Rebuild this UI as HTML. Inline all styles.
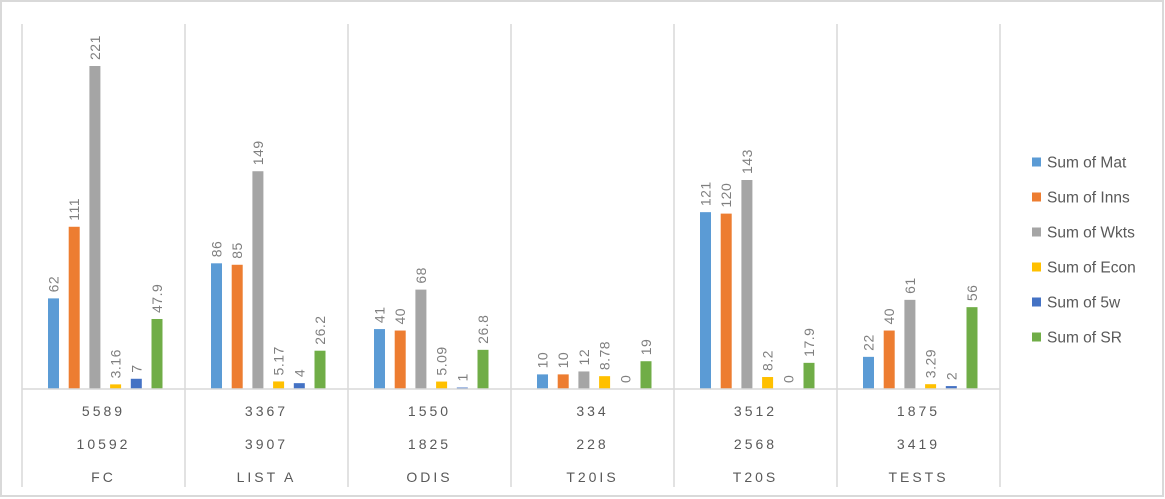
<!DOCTYPE html>
<html><head><meta charset="utf-8"><style>
html,body{margin:0;padding:0;background:#fff;}
svg{display:block;font-family:"Liberation Sans",sans-serif;}
</style></head><body>
<svg id="chart" width="1165" height="499" viewBox="0 0 1165 499">
<rect x="1" y="1" width="1162" height="495" fill="#fff" stroke="#d9d9d9" stroke-width="2"/>
<g id="grid"></g><g id="bars"></g><g id="labels"></g><g id="axis"></g><g id="legend"></g>
</svg>
<script>
const categories=["FC","LIST A","ODIS","T20IS","T20S","TESTS"];
const row1=["5589","3367","1550","334","3512","1875"];
const row2=["10592","3907","1825","228","2568","3419"];
const seriesNames=["Sum of Mat","Sum of Inns","Sum of Wkts","Sum of Econ","Sum of 5w","Sum of SR"];
const mat=[62,86,41,10,121,22];
const inns=[111,85,40,10,120,40];
const wkts=[221,149,68,12,143,61];
const econ=[3.16,5.17,5.09,8.78,8.2,3.29];
const fivew=[7,4,1,0,0,2];
const sr=[47.9,26.2,26.8,19,17.9,56];
const series=[mat,inns,wkts,econ,fivew,sr];
const colors=["#5b9bd5","#ed7d31","#a5a5a5","#ffc000","#4472c4","#70ad47"];
const NS="http://www.w3.org/2000/svg";
const plotX0=22,plotX1=1000,base=389,yTop=66,vmax=221;
const gw=(plotX1-plotX0)/categories.length;
function yScale(v){return base-(v/vmax)*(base-yTop);}
function mk(t,a,p){const e=document.createElementNS(NS,t);for(const k in a)e.setAttribute(k,a[k]);p.appendChild(e);return e;}
const gridG=document.getElementById('grid'),barsG=document.getElementById('bars'),labelsG=document.getElementById('labels'),axisG=document.getElementById('axis'),legendG=document.getElementById('legend');
for(let i=0;i<=categories.length;i++){
  const l=mk('line',{x1:plotX0+i*gw,x2:plotX0+i*gw,y1:24,y2:487,stroke:"#d9d9d9","stroke-width":1.5},gridG);
  
  
}
const bl=mk('line',{x1:plotX0,x2:plotX1,y1:base,y2:base,stroke:"#d9d9d9","stroke-width":1.5},axisG);


const bw=11,step=20.7;
categories.forEach((c,i)=>{
  const gx=plotX0+i*gw+26;
  series.forEach((s,j)=>{
    const v=s[i];const bx=gx+j*step;const by=yScale(v);
    if(v>0){
      const r=mk('rect',{x:bx,y:by,width:bw,height:base-by,fill:colors[j]},barsG);
      
      
    }
    const tx=bx+bw/2+5,ty=by-6;
    const t=mk('text',{x:tx,y:ty,transform:`rotate(-90 ${tx} ${ty})`,"font-size":14,fill:"#7f7f7f","letter-spacing":"0.5"},labelsG);
    t.textContent=String(v);
    
    
  });
  const cx=plotX0+i*gw+gw/2;
  [[row1[i],416],[row2[i],449],[c,482]].forEach(([txt,yy],k)=>{
    const t=mk('text',{x:cx,y:yy,"text-anchor":"middle","font-size":14,fill:"#595959","letter-spacing":"3"},axisG);
    t.textContent=txt;
    
    
  });
});
seriesNames.forEach((n,j)=>{
  const yy=162+j*35;
  const g=mk('g',{},legendG);
  
  
  mk('rect',{x:1032,y:yy-4.5,width:9,height:9,fill:colors[j]},g);
  const t=mk('text',{x:1047,y:yy+5.5,"font-size":15.5,fill:"#595959"},g);
  t.textContent=n;
});
</script>
</body></html>
